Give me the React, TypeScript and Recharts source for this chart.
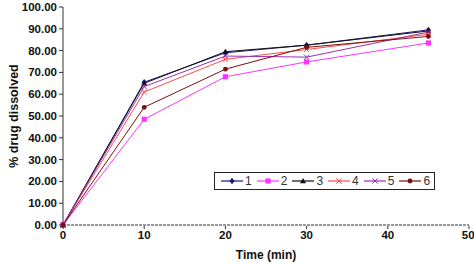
import { LineChart, Line, XAxis, YAxis, Label } from 'recharts';

// sampling times (min) and % dissolved for the six formulations
const times = [0, 10, 20, 30, 45];
const f1 = [0, 65.5, 79.0, 82.5, 89.5];
const f2 = [0, 48.5, 68.0, 74.8, 83.5];
const f3 = [0, 65.0, 79.5, 82.5, 89.0];
const f4 = [0, 61.0, 76.0, 80.5, 87.5];
const f5 = [0, 63.5, 77.5, 77.0, 88.5];
const f6 = [0, 54.0, 71.5, 81.5, 86.5];

const yTicks = [0, 10, 20, 30, 40, 50, 60, 70, 80, 90, 100];
const xTicks = [0, 10, 20, 30, 40, 50];

const seriesNames = ['1', '2', '3', '4', '5', '6'];
const seriesValues = [f1, f2, f3, f4, f5, f6];
const COLORS = ['#1a1a7a', '#ff33ff', '#111111', '#ff4a4a', '#9a2fb0', '#7a1010'];
const SHAPES = ['diamond', 'square', 'triangle', 'cross', 'cross', 'circle'];

const data = times.map((t, i) => {
  const row: Record<string, number> = { t };
  seriesNames.forEach((n, k) => {
    row[n] = seriesValues[k][i];
  });
  return row;
});

const FONT = '"Liberation Sans", Arial, sans-serif';

function Marker({ cx, cy, shape, color }: any) {
  if (cx == null || cy == null) return null;
  const r = 2.6;
  switch (shape) {
    case 'diamond':
      return <polygon points={`${cx},${cy - 3.2} ${cx + 2.6},${cy} ${cx},${cy + 3.2} ${cx - 2.6},${cy}`} fill={color} />;
    case 'square':
      return <rect x={cx - r} y={cy - r} width={r * 2} height={r * 2} fill={color} />;
    case 'triangle':
      return <polygon points={`${cx},${cy - 3} ${cx + 3},${cy + 2.2} ${cx - 3},${cy + 2.2}`} fill={color} />;
    case 'cross':
      return (
        <g stroke={color} strokeWidth={1}>
          <line x1={cx - r} y1={cy - r} x2={cx + r} y2={cy + r} />
          <line x1={cx - r} y1={cy + r} x2={cx + r} y2={cy - r} />
        </g>
      );
    default:
      return <circle cx={cx} cy={cy} r={2.4} fill={color} />;
  }
}

// boxed legend sitting inside the plot, lower right
function LegendBox() {
  return (
    <div
      style={{
        position: 'absolute',
        left: 214,
        top: 172,
        display: 'flex',
        border: '1px solid #222',
        background: '#fff',
        height: 16,
        alignItems: 'center',
        padding: '0 4px 0 6px',
        fontFamily: FONT,
        fontSize: 12,
        color: '#333',
      }}
    >
      {seriesNames.map((n, k) => (
        <div key={n} style={{ display: 'flex', alignItems: 'center', marginRight: k < 5 ? 5 : 0 }}>
          <svg width={22} height={10}>
            <line x1={0} y1={5} x2={22} y2={5} stroke={COLORS[k]} strokeWidth={1.2} />
            <Marker cx={11} cy={5} shape={SHAPES[k]} color={COLORS[k]} />
          </svg>
          <span style={{ marginLeft: 2 }}>{n}</span>
        </div>
      ))}
    </div>
  );
}

export default function App() {
  return (
    <div style={{ position: 'absolute', left: 0, top: 0, width: 474, height: 262, background: '#fff' }}>
      <LineChart width={474} height={262} data={data} margin={{ top: 7, right: 5, bottom: 0, left: 0 }}>
        <XAxis
          dataKey="t"
          type="number"
          domain={[0, 50]}
          ticks={xTicks}
          height={37}
          stroke="#333"
          strokeDasharray="3 1"
          tickSize={4}
          tick={{ fill: '#111', fontSize: 11.5, fontWeight: 'bold', fontFamily: FONT }}
        >
          <Label
            value="Time (min)"
            position="insideBottom"
            offset={3}
            style={{ fill: '#111', fontSize: 12, fontWeight: 'bold', fontFamily: FONT }}
          />
        </XAxis>
        <YAxis
          domain={[0, 100]}
          ticks={yTicks}
          width={63}
          stroke="#333"
          tickSize={4}
          interval={0}
          tickFormatter={(v: number) => v.toFixed(2)}
          tick={{ fill: '#111', fontSize: 11.5, fontWeight: 'bold', fontFamily: FONT }}
        >
          <Label
            value="% drug dissolved"
            angle={-90}
            position="insideLeft"
            offset={14}
            style={{ fill: '#111', fontSize: 12.5, fontWeight: 'bold', fontFamily: FONT, textAnchor: 'middle' }}
          />
        </YAxis>
        {seriesNames.map((n, k) => (
          <Line
            key={n}
            dataKey={n}
            stroke={COLORS[k]}
            strokeWidth={1}
            isAnimationActive={false}
            dot={(p: any) => <Marker key={`${n}-${p.index}`} cx={p.cx} cy={p.cy} shape={SHAPES[k]} color={COLORS[k]} />}
            activeDot={false}
          />
        ))}
      </LineChart>
      <LegendBox />
    </div>
  );
}
